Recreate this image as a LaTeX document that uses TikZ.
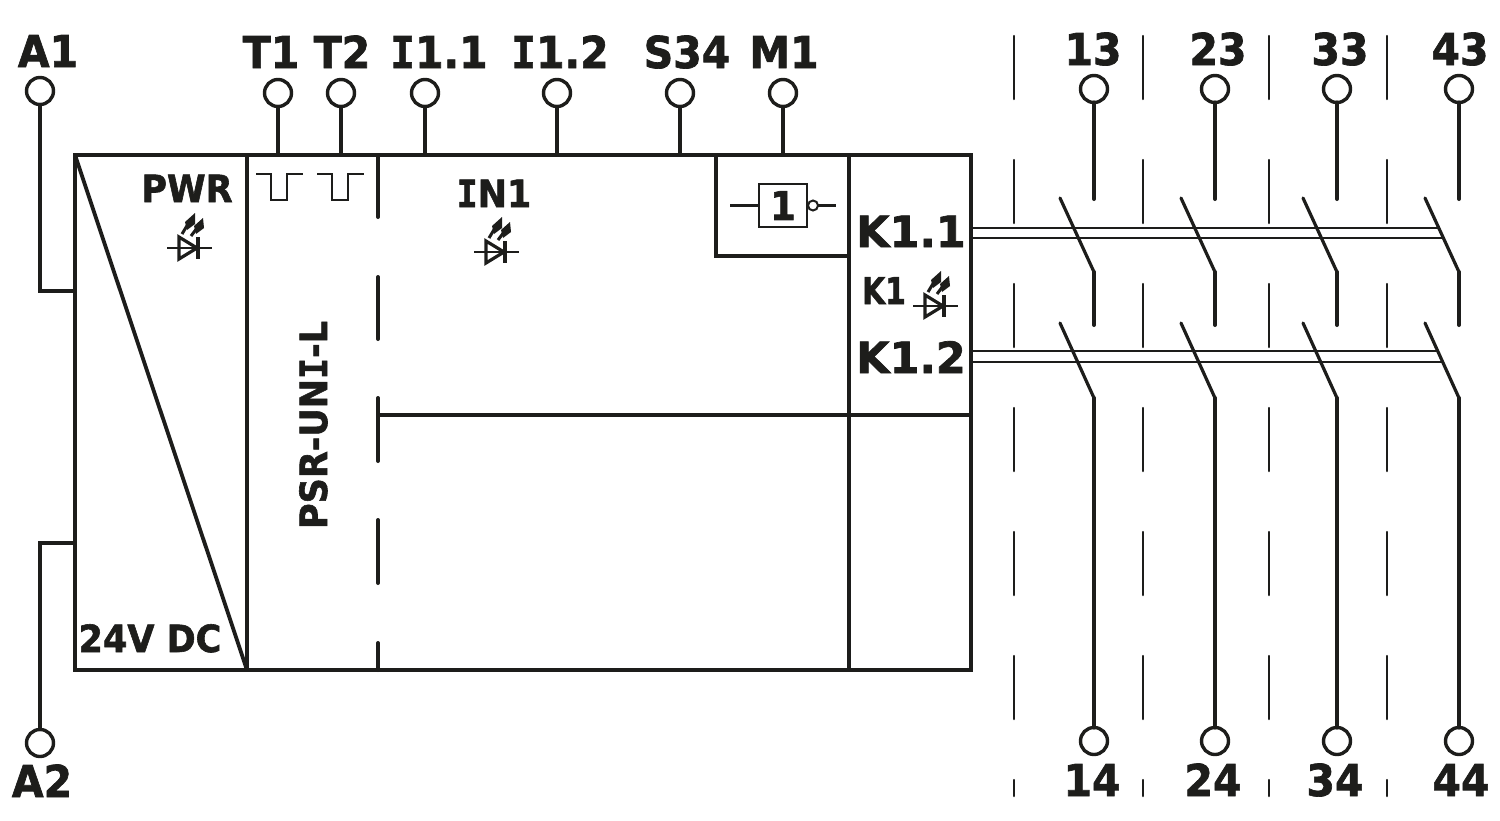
\documentclass[tikz,border=0pt]{standalone}
\usepackage{fontspec}
\setmainfont{DejaVu Sans}[BoldFeatures={FakeBold=1.6}]
\newfontfamily\dmono{DejaVu Sans Mono}[BoldFeatures={FakeBold=1.6}]
\definecolor{ink}{HTML}{1D1D1B}
\newcommand{\Ii}{{\dmono I}}
\newcommand{\Tall}[1]{\scalebox{1}[1.07]{#1}}
\tikzset{
  thick line/.style={draw=ink,line width=4pt,line cap=round,line join=miter},
  box line/.style={draw=ink,line width=3.8pt,line cap=round,line join=miter},
  thin line/.style={draw=ink,line width=2.8pt,line cap=butt,line join=miter},
  sep line/.style={draw=ink,line width=2.5pt,line cap=round},
  terminal/.style={circle,draw=ink,line width=3.4pt,minimum size=27pt,inner sep=0pt,outer sep=0pt,fill=white},
  big/.style={text=ink,font=\fontsize{41}{41}\selectfont\bfseries,anchor=base,inner sep=0pt},
  mid/.style={text=ink,font=\fontsize{35}{35}\selectfont\bfseries,anchor=base,inner sep=0pt},
}
\newcommand{\ledsym}[2]{%
  \begin{scope}[shift={(#1,#2)}]
    \draw[thin line] (-12,0) -- (33,0);
    \draw[thin line,line width=3.2pt,line join=miter] (0,-11) -- (0,11) -- (18,0) -- cycle;
    \draw[thin line,line width=3.4pt] (19,-11) -- (19,11);
    \draw[ink,line width=3pt] (3,-14) -- (9,-24);
    \fill[ink] (16,-35) -- (16,-24) -- (8,-18) -- (6,-26) -- cycle;
    \draw[ink,line width=3pt] (12,-12) -- (18,-20);
    \fill[ink] (24,-30) -- (25,-20) -- (17,-14) -- (15,-22) -- cycle;
  \end{scope}}
\begin{document}
\begin{tikzpicture}[x=1pt,y=-1pt]
\useasboundingbox (0,0) rectangle (1500,820);
% separators
\foreach \x in {1014,1143,1269,1387}{
  \foreach \y in {36,160,284,408,532,656}{
    \draw[sep line] (\x,\y) -- (\x,\y+63);
  }
  \draw[sep line] (\x,780) -- (\x,796);
}
% main box
\draw[box line] (75,155) rectangle (971,670);
\draw[box line] (247,155) -- (247,670);
\draw[box line] (849,155) -- (849,670);
\draw[box line] (75,155) -- (247,670);
\draw[box line] (716,155) -- (716,256) -- (849,256);
\draw[box line] (378,415) -- (971,415);
\foreach \a/\b in {155/217,277/339,398/461,520/583,643/670}{
  \draw[thick line] (378,\a) -- (378,\b);
}
% terminals
\foreach \n/\x/\y in {A1/40/91,T1/278/93,T2/341/93,I11/425/93,I12/557/93,S34/680/93,M1/783/93,A2/40/743,
  c13/1094/89,c23/1215/89,c33/1337/89,c43/1459/89,c14/1094/741,c24/1215/741,c34/1337/741,c44/1459/741}{
  \node[terminal] (\n) at (\x,\y) {};
}
\coordinate (a1in) at (75,291);
\coordinate (a2in) at (75,543);
\draw[thick line,line cap=butt] (A1) |- (a1in);
\draw[thick line,line cap=butt] (A2) |- (a2in);
\foreach \n/\x in {T1/278,T2/341,I11/425,I12/557,S34/680,M1/783}{
  \coordinate (\n top) at (\x,155);
  \draw[thick line,line cap=butt] (\n) -- (\n top);
}
% contacts
\foreach \u/\l/\x in {c13/c14/1094,c23/c24/1215,c33/c34/1337,c43/c44/1459}{
  \coordinate (\u a) at (\x,199);
  \coordinate (\u b) at (\x,272);
  \coordinate (\u c) at (\x,325);
  \coordinate (\u d) at (\x,398);
  \draw[thick line] (\u) -- (\u a);
  \draw[thick line,line width=3.2pt] (\x-34,198) -- (\u b);
  \draw[thick line] (\u b) -- (\u c);
  \draw[thick line,line width=3.2pt] (\x-34,323) -- (\u d);
  \draw[thick line] (\u d) -- (\l);
}
% couplings
\foreach \y/\e in {228/1439,238/1444,351/1438,362/1443}{
  \coordinate (ca\y) at (971,\y);
  \coordinate (cb\y) at (\e,\y);
  \draw[draw=ink,line width=2.2pt] (ca\y) -- (cb\y);
}
% pulses
\draw[thin line] (256,174) -- (271,174) -- (271,200) -- (287,200) -- (287,174) -- (303,174);
\draw[thin line] (317,174) -- (332,174) -- (332,200) -- (348,200) -- (348,174) -- (364,174);
% gate
\node[draw=ink,line width=2.8pt,minimum width=48pt,minimum height=43pt,inner sep=0pt,outer sep=0pt,
  text=ink,font=\fontsize{37}{37}\selectfont\bfseries] (gate) at (783,205.5) {\Tall{1}};
\coordinate (gatein) at (730,205.5);
\coordinate (gateout) at (836,205.5);
\node[circle,draw=ink,line width=2pt,minimum size=10pt,inner sep=0pt,outer sep=0pt] (bubble) at (813,205.5) {};
\draw[thin line] (gatein) -- (gate.west);
\draw[thin line] (bubble) -- (gateout);
% LEDs
\ledsym{179}{248}
\ledsym{486}{252}
\ledsym{925}{306}
% labels
\node[big] (tA1) at (48,67) {\Tall{A1}};
\node[big] (tT1) at (271,68) {\Tall{T1}};
\node[big] (tT2) at (342,68) {\Tall{T2}};
\node[big] (tI11) at (439,68) {\Tall{\Ii1.1}};
\node[big] (tI12) at (560,68) {\Tall{\Ii1.2}};
\node[big] (tS34) at (687,68) {\Tall{S34}};
\node[big] (tM1) at (784,68) {\Tall{M1}};
\node[big] (tA2) at (42,797) {\Tall{A2}};
\node[big] (t13) at (1093,65) {\Tall{13}};
\node[big] (t23) at (1218,65) {\Tall{23}};
\node[big] (t33) at (1340,65) {\Tall{33}};
\node[big] (t43) at (1460,65) {\Tall{43}};
\node[big] (t14) at (1092,796) {\Tall{14}};
\node[big] (t24) at (1213,796) {\Tall{24}};
\node[big] (t34) at (1335,796) {\Tall{34}};
\node[big] (t44) at (1461,796) {\Tall{44}};
\node[big,font=\fontsize{43}{43}\selectfont\bfseries] (k11) at (911,247) {K1.1};
\node[big,font=\fontsize{43}{43}\selectfont\bfseries] (k12) at (911,373) {K1.2};
\node[mid] (k1) at (884,304) {\scalebox{.85}[1.05]{K1}};
\node[mid] (pwr) at (187,202) {\Tall{PWR}};
\node[mid] (in1) at (494,207) {\Tall{\Ii N1}};
\node[mid] (dc) at (150,652) {\Tall{24V DC}};
\node[mid,rotate=90,anchor=base] (psr) at (327,425) {\Tall{PSR-UN\Ii-L}};
\end{tikzpicture}
\end{document}
